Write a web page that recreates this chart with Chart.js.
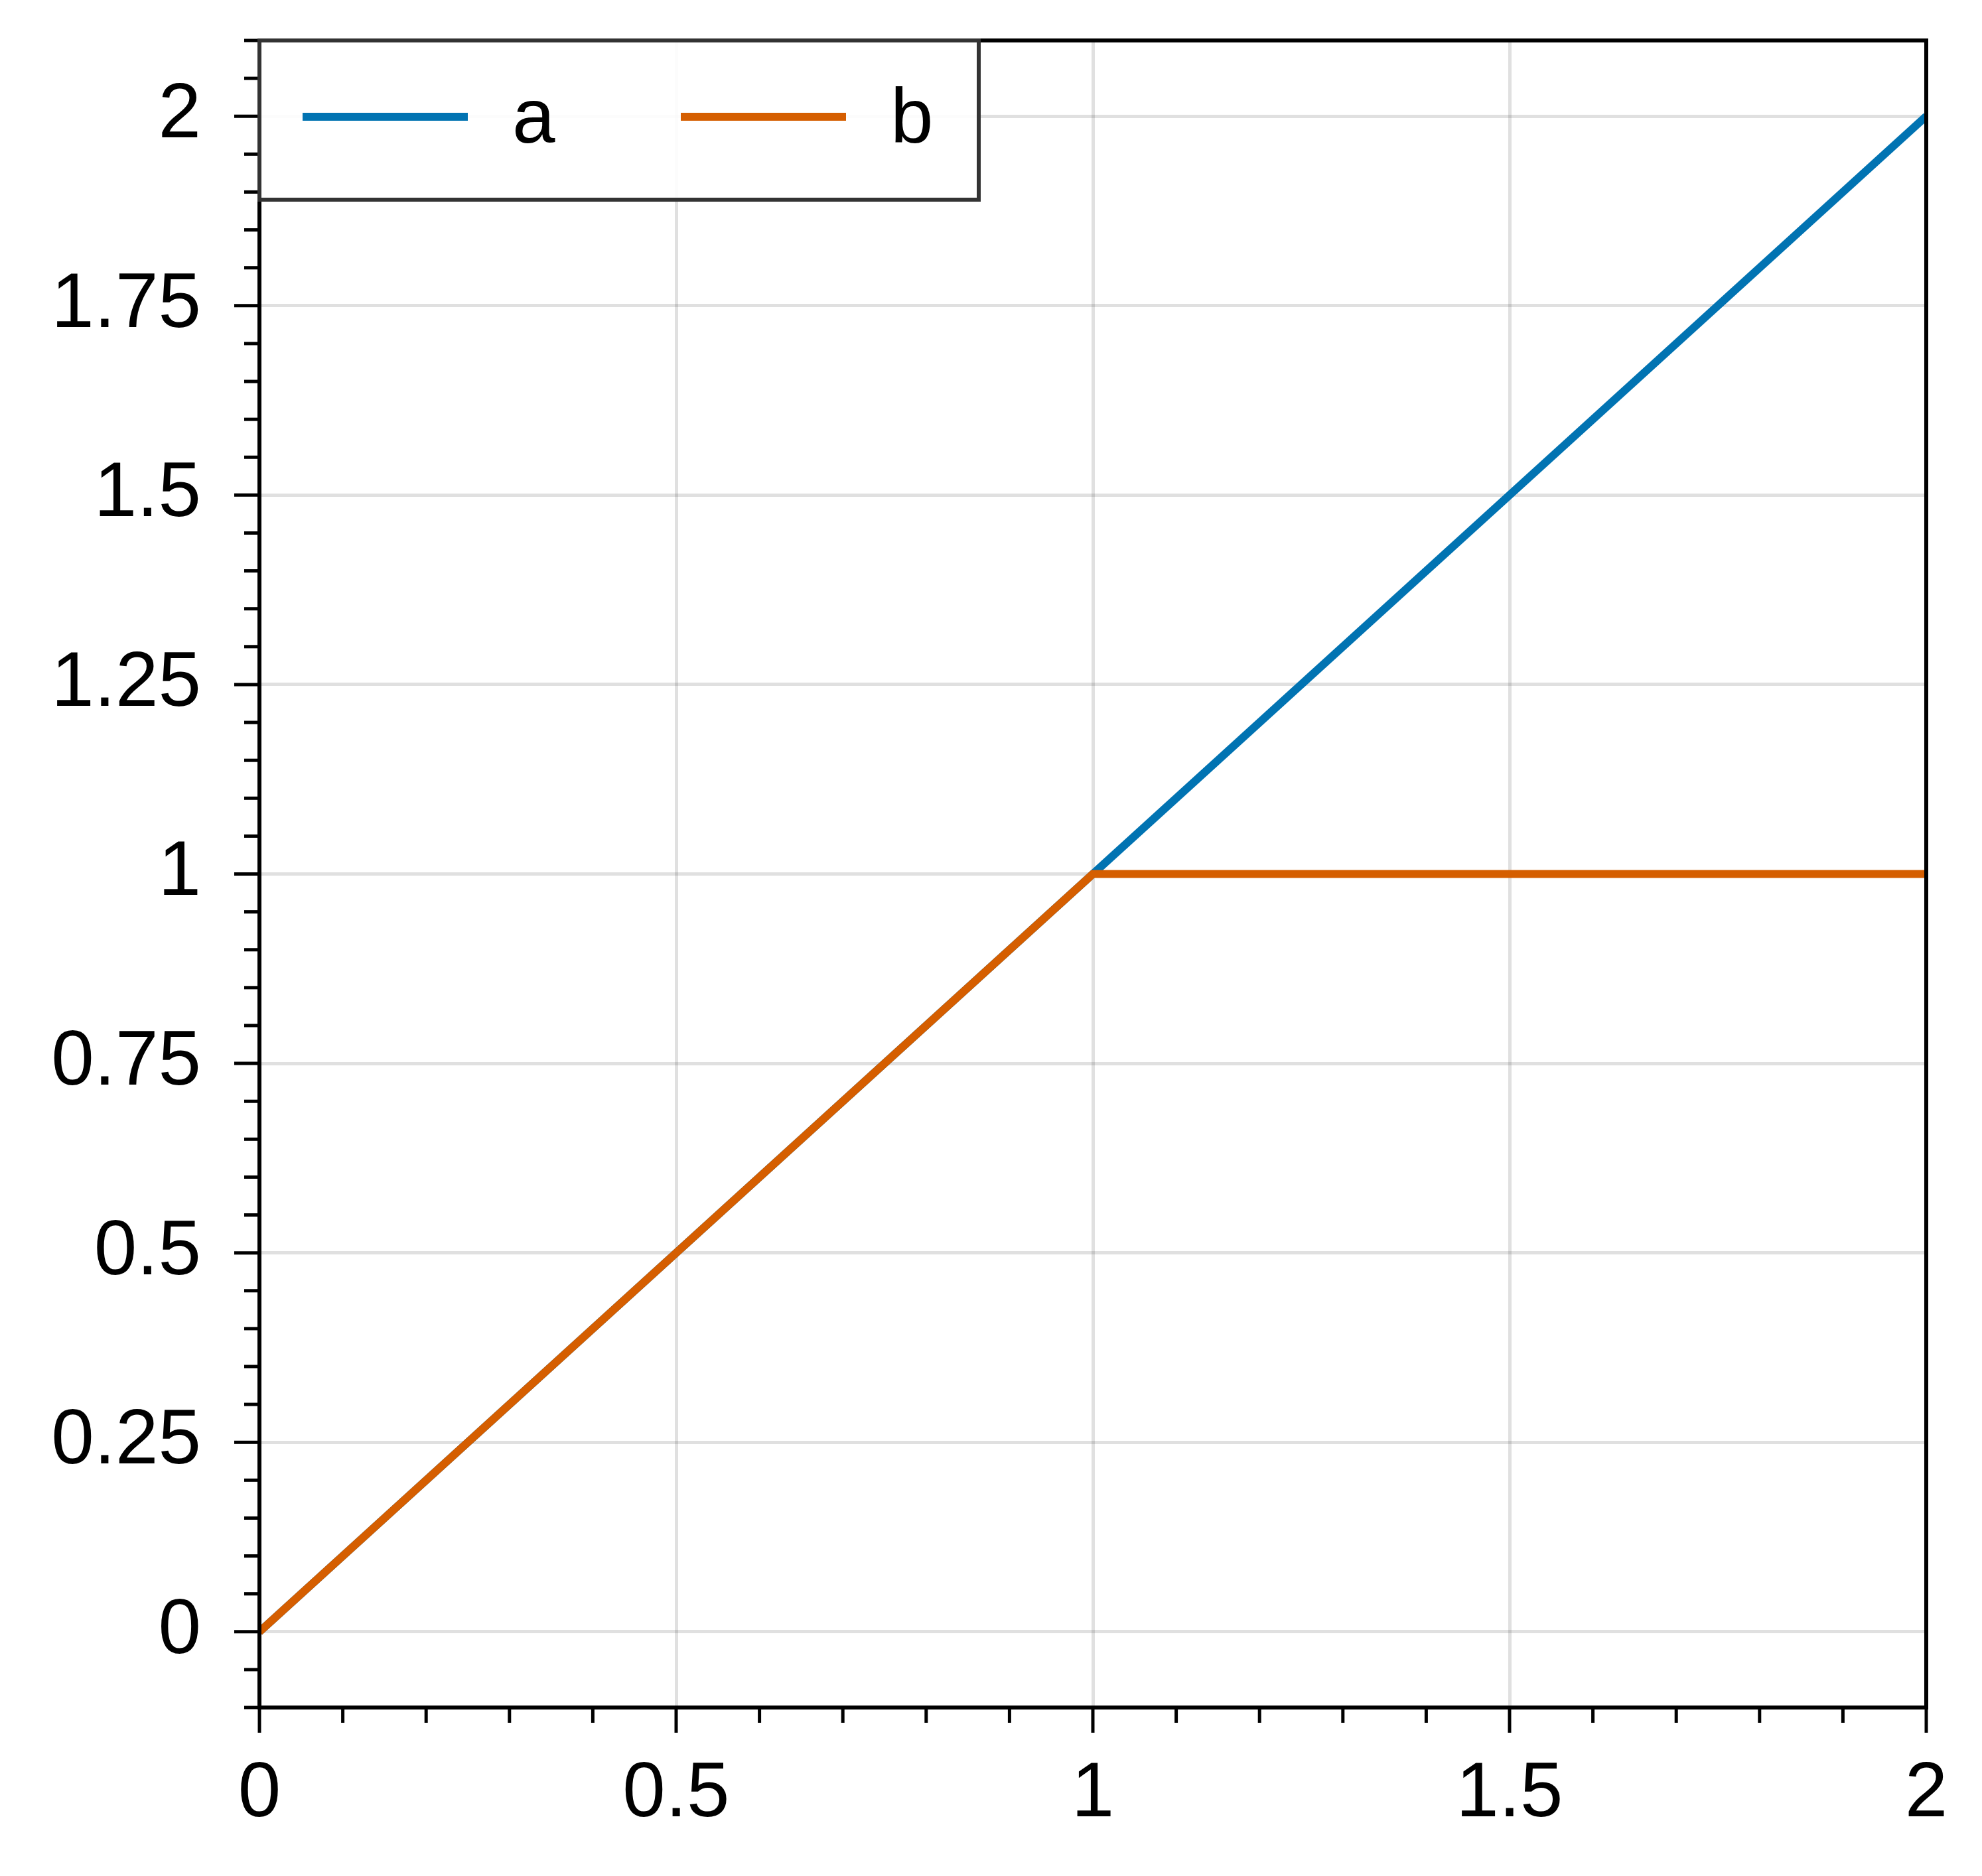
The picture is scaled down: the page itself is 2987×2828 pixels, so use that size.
<!DOCTYPE html>
<html><head><meta charset="utf-8">
<script src="https://cdn.jsdelivr.net/npm/chart.js@4"></script>
<style>html,body{margin:0;padding:0;background:#fff}#w{width:2987px;height:2828px}</style>
</head><body><div id="w"><canvas id="c"></canvas></div>
<script>
const seriesNames = ['a', 'b'];
const xValues = [0, 1, 2];
const seriesA = [0, 1, 2];
const seriesB = [0, 1, 1];
const colors = ['#0173b2', '#d55e00'];
const FONT = '"Liberation Sans", Arial, sans-serif';

const L = 391, T = 61, R = 2903, B = 2574;

const deco = {
  id: 'deco',
  afterDraw(chart) {
    const ctx = chart.ctx, x = chart.scales.x, y = chart.scales.y;
    const ca = chart.chartArea;
    ctx.save();
    ctx.strokeStyle = '#000';
    ctx.lineWidth = 5;
    for (let i = -2; i <= 42; i++) {
      const v = i * 0.05;
      const p = y.getPixelForValue(v);
      if (p < ca.top - 1 || p > ca.bottom + 1) continue;
      const major = i % 5 === 0;
      ctx.beginPath(); ctx.moveTo(ca.left, p); ctx.lineTo(ca.left - (major ? 38 : 23), p); ctx.stroke();
    }
    for (let i = 0; i <= 20; i++) {
      const p = x.getPixelForValue(i * 0.1);
      const major = i % 5 === 0;
      ctx.beginPath(); ctx.moveTo(p, ca.bottom); ctx.lineTo(p, ca.bottom + (major ? 38 : 23)); ctx.stroke();
    }
    ctx.lineWidth = 6;
    ctx.strokeRect(ca.left, ca.top, ca.right - ca.left, ca.bottom - ca.top);
    const lx = ca.left, ly = ca.top;
    ctx.fillStyle = 'rgba(255,255,255,0.9)';
    ctx.fillRect(lx, ly, 1084, 240);
    ctx.strokeStyle = '#333'; ctx.lineWidth = 6;
    ctx.strokeRect(lx, ly, 1084, 240);
    ctx.font = '116px ' + FONT; ctx.textBaseline = 'middle'; ctx.fillStyle = '#000';
    chart.data.datasets.forEach((d, i) => {
      const x0 = lx + 65 + i * 570;
      ctx.strokeStyle = d.borderColor; ctx.lineWidth = 12;
      ctx.beginPath(); ctx.moveTo(x0, ly + 115); ctx.lineTo(x0 + 249, ly + 115); ctx.stroke();
      ctx.fillText(d.label, x0 + 316, ly + 122);
    });
    ctx.restore();
  }
};

new Chart(document.getElementById('c'), {
  type: 'line',
  data: {
    datasets: [
      { label: seriesNames[0], order: 1, data: xValues.map((v, i) => ({ x: v, y: seriesA[i] })), borderColor: colors[0], borderWidth: 12, pointRadius: 0, tension: 0 },
      { label: seriesNames[1], order: 0, data: xValues.map((v, i) => ({ x: v, y: seriesB[i] })), borderColor: colors[1], borderWidth: 12, pointRadius: 0, tension: 0 }
    ]
  },
  options: {
    responsive: true, maintainAspectRatio: false, animation: false, devicePixelRatio: 1,
    layout: { padding: { top: T, right: 2987 - R, left: 0, bottom: 0 } },
    plugins: { legend: { display: false }, tooltip: { enabled: false } },
    scales: {
      x: {
        type: 'linear', min: 0, max: 2,
        afterFit(s) { s.height = 2828 - B; s.paddingLeft = 0; s.paddingRight = 0; },
        ticks: { stepSize: 0.5, padding: 62, color: '#000', font: { family: FONT, size: 116 }, callback: v => String(v) },
        grid: { drawTicks: false, color: 'rgba(0,0,0,0.12)', lineWidth: 5 },
        border: { display: false }
      },
      y: {
        min: -0.1, max: 2.1,
        afterFit(s) { s.width = L; s.paddingTop = 0; s.paddingBottom = 0; },
        afterBuildTicks(s) { s.ticks = [0, 0.25, 0.5, 0.75, 1, 1.25, 1.5, 1.75, 2].map(v => ({ value: v })); },
        ticks: { padding: 88, color: '#000', font: { family: FONT, size: 116 }, callback: v => String(v) },
        grid: { drawTicks: false, color: 'rgba(0,0,0,0.12)', lineWidth: 5 },
        border: { display: false }
      }
    }
  },
  plugins: [deco]
});
</script></body></html>
